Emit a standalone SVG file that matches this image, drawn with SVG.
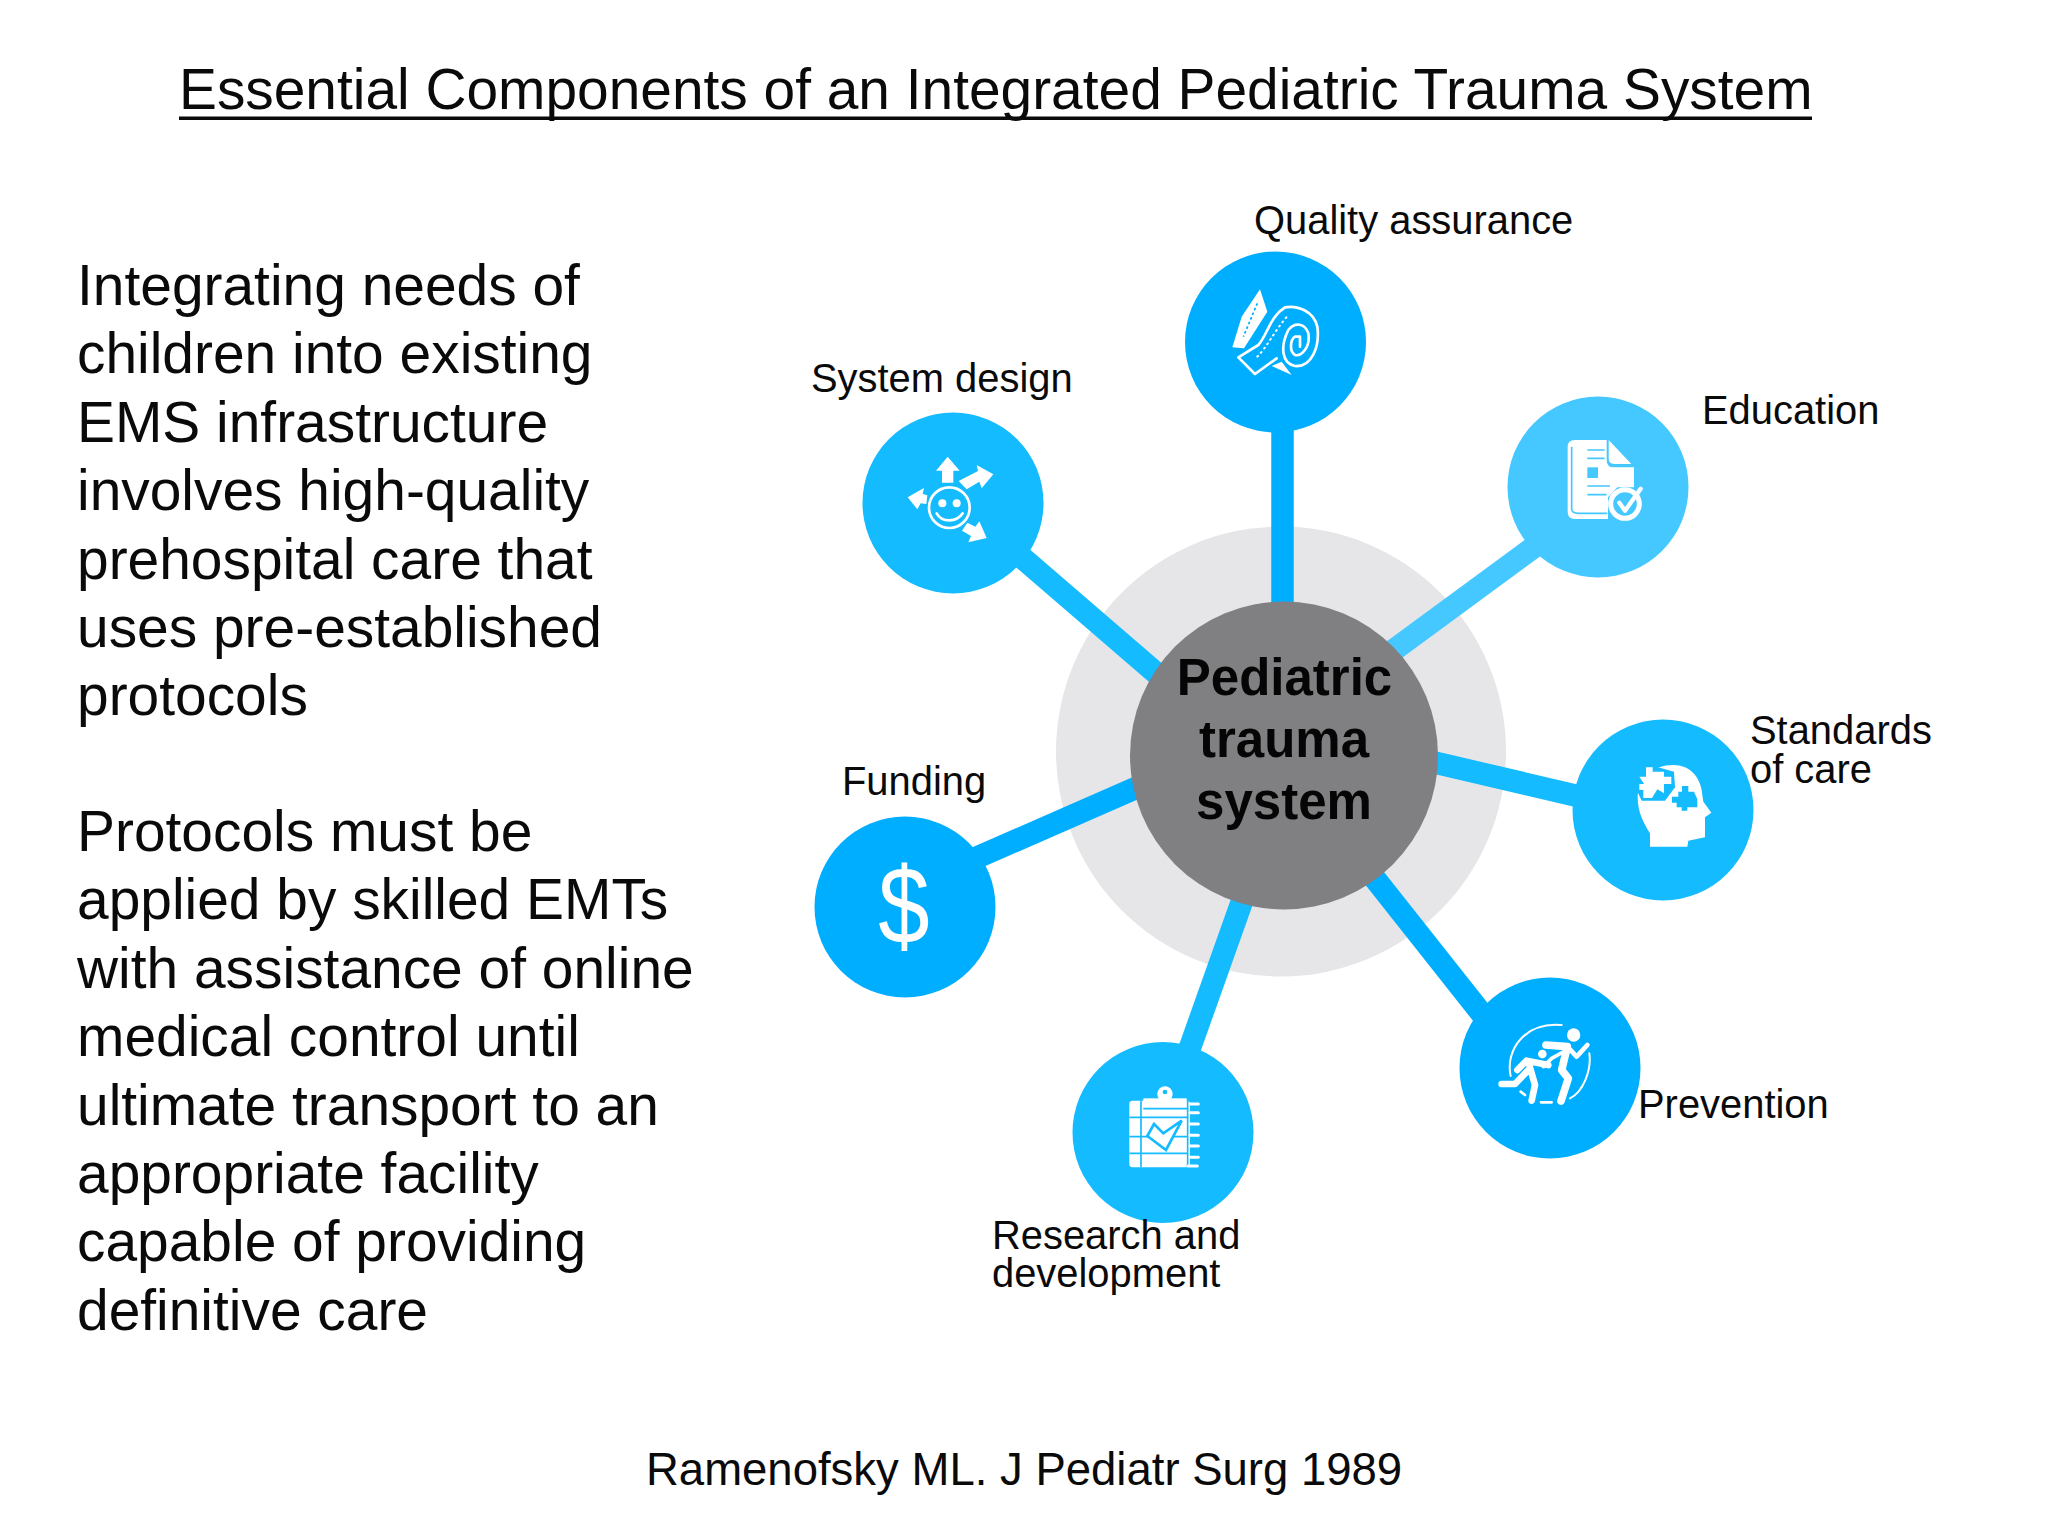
<svg xmlns="http://www.w3.org/2000/svg" width="2048" height="1536" viewBox="0 0 2048 1536">
<style>
text{font-family:"Liberation Sans",Arial,sans-serif;fill:#0a0a0a}
.body{font-size:56.9px}
.label{font-size:39.9px}
.hub{font-size:51px;font-weight:bold;text-anchor:middle;fill:#050505}
.w{fill:#fff}
.ws{fill:none;stroke:#fff;stroke-linecap:round;stroke-linejoin:round}
.c1{stroke:#00aeff}.c2{stroke:#14bbff}.c3{stroke:#45c8ff}
.f1{fill:#00aeff}.f2{fill:#14bbff}.f3{fill:#45c8ff}
</style>
<rect width="2048" height="1536" fill="#fff"/>
<g id="title">
<text x="179" y="109" font-size="56.85">Essential Components of an Integrated Pediatric Trauma System</text>
<rect x="179" y="116.500" width="1633" height="3.500" fill="#0a0a0a"/>
</g>
<g id="body-text">
<text class="body" x="77" y="305">Integrating needs of</text>
<text class="body" x="77" y="373.400">children into existing</text>
<text class="body" x="77" y="441.800">EMS infrastructure</text>
<text class="body" x="77" y="510.200">involves high-quality</text>
<text class="body" x="77" y="578.600">prehospital care that</text>
<text class="body" x="77" y="647">uses pre-established</text>
<text class="body" x="77" y="715.400">protocols</text>
<text class="body" x="77" y="851">Protocols must be</text>
<text class="body" x="77" y="919.400">applied by skilled EMTs</text>
<text class="body" x="77" y="987.800">with assistance of online</text>
<text class="body" x="77" y="1056.200">medical control until</text>
<text class="body" x="77" y="1124.600">ultimate transport to an</text>
<text class="body" x="77" y="1193">appropriate facility</text>
<text class="body" x="77" y="1261.400">capable of providing</text>
<text class="body" x="77" y="1329.800">definitive care</text>
</g>
<circle id="halo" cx="1281" cy="751.500" r="225" fill="#e6e6e8"/>
<g id="connectors" stroke-width="22.500" fill="none">
<line class="c1" x1="1282.500" y1="342" x2="1282.500" y2="755"/>
<line class="c2" x1="953" y1="498" x2="1200" y2="711"/>
<line class="c3" x1="1598" y1="500" x2="1300" y2="719"/>
<line class="c2" x1="1300" y1="731" x2="1663" y2="816"/>
<line class="c1" x1="1300" y1="784" x2="1550" y2="1100"/>
<line class="c2" x1="1278" y1="800" x2="1160" y2="1132"/>
<line class="c1" x1="905" y1="889" x2="1250" y2="738"/>
</g>
<g id="hub">
<circle cx="1284" cy="755.500" r="154" fill="#808083"/>
<text class="hub" x="1284.500" y="695">Pediatric</text>
<text class="hub" x="1284" y="757">trauma</text>
<text class="hub" x="1284" y="819">system</text>
</g>
<g id="node-quality">
<circle class="f1" cx="1275.500" cy="342" r="90.500"/>
<g transform="translate(1180 240) scale(.33333)">
<path class="w" d="M240,148 L262,215 L192,325 L157,322 L185,230 Z"/>
<path d="M232,190 L190,290" fill="none" stroke="#00aeff" stroke-width="5" stroke-dasharray="8 7"/>
<path class="ws" stroke-width="8" d="M175,352 L225,402 L290,355 M175,352 L235,315 C262,285 270,230 315,202 C355,195 402,215 412,260 C420,320 395,382 345,378 C305,370 300,320 325,270 C345,245 375,250 385,280 C392,320 365,350 345,345 C328,335 330,300 345,290 L360,290 L360,320"/>
<path class="ws" stroke-width="6" stroke-dasharray="3 13" d="M232,350 C262,320 285,270 325,225"/>
<path class="w" d="M275,378 L305,365 L335,405 Z"/>
</g>
<text class="label" x="1254" y="234">Quality assurance</text>
</g>
<g id="node-system">
<circle class="f2" cx="953" cy="503" r="90.500"/>
<g transform="translate(860 410) scale(.33333)">
<circle class="ws" cx="268" cy="293" r="61" stroke-width="8"/>
<circle class="w" cx="247" cy="280" r="12"/><circle class="w" cx="290" cy="280" r="12"/>
<path class="ws" stroke-width="8" d="M230,310 C245,338 290,338 308,310"/>
<path class="w" d="M263,140 L299,182 L280,182 L280,218 L246,218 L246,182 L228,182 Z"/>
<path class="w" d="M400,193 L350,165 L354,183 L296,213 L320,238 L358,215 L365,235 Z"/>
<path class="w" d="M143,262 L192,234 L188,252 L202,256 L199,282 L182,280 L172,298 Z"/>
<path class="w" d="M380,384 L358,334 L346,350 L322,338 L306,362 L333,378 L325,397 Z"/>
</g>
<text class="label" x="811" y="392">System design</text>
</g>
<g id="node-education">
<circle class="f3" cx="1598" cy="487" r="90.500"/>
<g transform="translate(1510 390) scale(.33333)">
<path class="w" d="M195,150 H290 V210 Q290,232 312,232 H372 V292 H322 L294,322 V387 H195 Q173,387 173,365 V170 Q173,150 195,150 Z"/>
<path class="w" d="M296,150 L364,222 H312 Q296,222 296,205 Z"/>
<path d="M232,180 H284 M232,205 H284 M232,288 H300 M232,314 H290 M185,170 V358 Q185,370 205,370 H292" fill="none" stroke="#45c8ff" stroke-width="5"/>
<rect class="f3" x="232" y="232" width="32" height="32"/>
<circle class="ws" cx="345" cy="342" r="43" stroke-width="15"/>
<path class="ws" stroke-width="13" d="M328,338 L345,362 L392,296"/>
</g>
<text class="label" x="1702" y="424">Education</text>
</g>
<g id="node-standards">
<circle class="f2" cx="1663" cy="810" r="90.500"/>
<g transform="translate(1570 710) scale(.33333)">
<path class="w" d="M240,410 L240,370 C222,340 203,310 203,260 C205,205 250,165 310,165 C370,165 395,215 397,255 L400,275 L424,308 L405,322 L405,382 L355,392 L352,410 Z"/>
<path class="f2" d="M200,195 L240,165 L312,185 L315,232 L285,272 L215,272 L200,240 Z"/>
<path class="w" d="M208,200 H228 V172 H248 V185 H282 V200 H304 V222 H282 V250 L262,238 L246,264 H220 V240 H208 V222 H222 Z"/>
<path class="f2" d="M325,245 H336 V228 H355 V245 H372 L382,268 V292 H352 V302 H335 V292 H320 V278 H306 V260 H325 Z"/>
</g>
<text class="label" x="1750" y="744">Standards</text>
<text class="label" x="1750" y="783">of care</text>
</g>
<g id="node-prevention">
<circle class="f1" cx="1550" cy="1068" r="90.500"/>
<g transform="translate(1460 970) scale(.33333)">
<path class="ws" stroke-width="6" d="M152,318 C135,240 195,155 305,165 M388,250 C395,300 370,365 330,385"/>
<circle class="w" cx="341" cy="195" r="20"/>
<path class="ws" stroke-width="23" d="M258,225 L322,230 L305,300 L325,325 L303,393"/>
<path class="ws" stroke-width="14" d="M322,230 L350,260 L382,225"/>
<path class="ws" stroke-width="11" d="M320,240 L275,265 L250,290"/>
<circle class="w" cx="247" cy="252" r="13"/>
<path class="ws" stroke-width="20" d="M172,300 L200,272 L265,285 M205,275 L225,345 L215,392 M205,300 L165,342 L125,342"/>
<path class="ws" stroke-width="8" d="M182,365 L195,375 M243,397 H275"/>
</g>
<text class="label" x="1638" y="1118">Prevention</text>
</g>
<g id="node-research">
<circle class="f2" cx="1163" cy="1132.500" r="90.500"/>
<g transform="translate(1060 1030) scale(.33333)">
<circle class="w" cx="315" cy="192" r="23"/><circle class="f2" cx="315" cy="186" r="7"/>
<rect class="w" x="250" y="205" width="130" height="26"/>
<rect class="w" x="208" y="212" width="182" height="200" rx="10"/>
<path d="M243,212 V412 M208,262 H385 M208,320 H385 M208,370 H385 M250,236 H385 M383,212 V412" fill="none" stroke="#14bbff" stroke-width="5"/>
<path class="w" d="M262,318 L282,282 L310,310 L365,272 L318,360 Z" stroke="#14bbff" stroke-width="8"/>
<path class="ws" stroke-width="9" d="M390,222 H415 M390,248 H415 M390,282 H415 M390,316 H415 M390,348 H415 M390,382 H415 M385,408 H412"/>
</g>
<text class="label" x="992" y="1249">Research and</text>
<text class="label" x="992" y="1287">development</text>
</g>
<g id="node-funding">
<circle class="f1" cx="905" cy="907" r="90.500"/>
<text transform="translate(904 944) scale(.84 1)" font-size="110" text-anchor="middle" style="fill:#fff">$</text>
<text class="label" x="842" y="795">Funding</text>
</g>
<text id="citation" x="646" y="1485" font-size="45.500">Ramenofsky ML. J Pediatr Surg 1989</text>
</svg>
